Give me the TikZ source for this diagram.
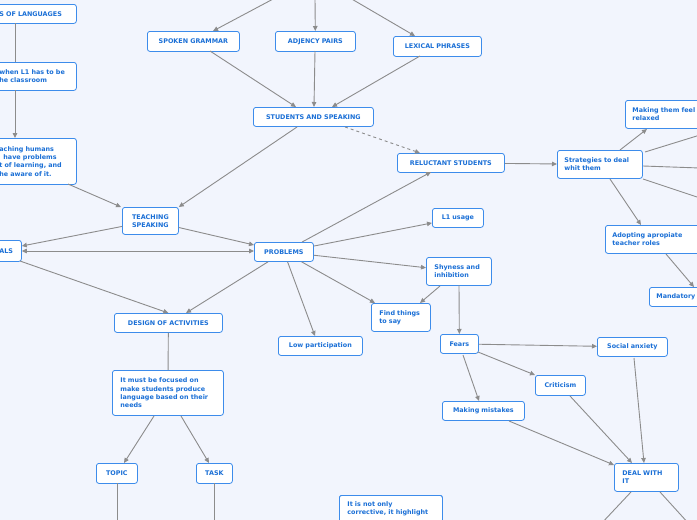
\documentclass[tikz,border=0pt]{standalone}
\usepackage{fontspec}
\setmainfont{DejaVu Sans}
\usetikzlibrary{arrows.meta}
\definecolor{bg}{HTML}{F2F5FD}
\definecolor{bd}{HTML}{3D8CEB}
\definecolor{tx}{HTML}{1A6FD6}
\definecolor{ln}{HTML}{8C8C8C}
\begin{document}
\begin{tikzpicture}[x=1pt,y=-1pt,
 box/.style={draw=bd,fill=white,rounded corners=2.5pt,line width=0.8pt,text=tx,font=\bfseries\fontsize{6.4}{8.2}\selectfont,inner sep=0pt,anchor=north west},
 con/.style={draw=ln,line width=0.9pt,-{Triangle[length=5pt,width=4.5pt]}},
 pln/.style={draw=ln,line width=0.9pt}]
\fill[bg] (0,0) rectangle (697,520);
\clip (0,0) rectangle (697,520);
\newcommand{\bx}[7]{\node[box,minimum width=#4,minimum height=#5,text width=#4-2*#6,inner xsep=#6,align=#7] (#1) at #2 {#3};}
\bx{lang}{(-60,4)}{\hspace*{59pt}S OF LANGUAGES}{136pt}{19pt}{0pt}{left}
\bx{when}{(-60,62)}{\hspace*{59pt}when L1 has to be\\\hspace*{59pt}he classroom}{136pt}{28pt}{0pt}{left}
\bx{aching}{(-60,138)}{\hspace*{59pt}aching humans\\\hspace*{63pt}have problems\\\hspace*{59pt}t of learning, and\\\hspace*{59pt}he aware of it.}{136pt}{46pt}{0pt}{left}
\bx{als}{(-60,240)}{\hspace*{59pt}ALS}{81pt}{21pt}{0pt}{left}
\bx{sg}{(147,31)}{SPOKEN GRAMMAR}{92pt}{20pt}{4pt}{center}
\bx{ap}{(275,31)}{ADJENCY PAIRS}{80pt}{20pt}{4pt}{center}
\bx{lp}{(393,36)}{LEXICAL PHRASES}{88pt}{20pt}{4pt}{center}
\bx{ss}{(253,107)}{STUDENTS AND SPEAKING}{120pt}{19pt}{4pt}{center}
\bx{rs}{(397,153)}{RELUCTANT STUDENTS}{107pt}{19pt}{4pt}{center}
\bx{st}{(557,150)}{Strategies to deal\\whit them}{85pt}{28pt}{7pt}{left}
\bx{mr}{(625,100)}{Making them feel\\relaxed}{95pt}{28pt}{7pt}{left}
\bx{ad}{(605,225)}{Adopting apropiate\\teacher roles}{110pt}{28pt}{7pt}{left}
\bx{ma}{(649,287)}{Mandatory}{80pt}{19pt}{7pt}{left}
\bx{ts}{(122,207)}{TEACHING\\SPEAKING}{56pt}{27pt}{3pt}{center}
\bx{pr}{(254,242)}{PROBLEMS}{59pt}{19pt}{3pt}{center}
\bx{l1}{(432,208)}{L1 usage}{51pt}{19pt}{3pt}{center}
\bx{sh}{(426,257)}{Shyness and\\inhibition}{65pt}{28pt}{8pt}{left}
\bx{ft}{(371,303)}{Find things\\to say}{59pt}{28pt}{8pt}{left}
\bx{lo}{(278,336)}{Low participation}{84pt}{19pt}{3pt}{center}
\bx{fe}{(440,334)}{Fears}{38pt}{19pt}{3pt}{center}
\bx{sa}{(597,337)}{Social anxiety}{70pt}{19pt}{3pt}{center}
\bx{cr}{(535,375)}{Criticism}{50pt}{20pt}{3pt}{center}
\bx{mm}{(442,401)}{Making mistakes}{82pt}{19pt}{3pt}{center}
\bx{dw}{(614,463)}{DEAL WITH\\IT}{64pt}{28pt}{8pt}{left}
\bx{no}{(339,495)}{It is not only\\corrective, it highlight}{103pt}{27pt}{8pt}{left}
\node[draw=bd,fill=white,rounded corners=2.5pt,line width=0.8pt,anchor=north west,minimum width=103pt,minimum height=40pt] at (339,495) {};
\bx{no}{(339,495)}{It is not only\\corrective, it highlight}{103pt}{27pt}{8pt}{left}
\bx{da}{(114,313)}{DESIGN OF ACTIVITIES}{108pt}{19pt}{3pt}{center}
\bx{im}{(112,370)}{It must be focused on\\make students produce\\language based on their\\needs}{111pt}{45pt}{8pt}{left}
\bx{to}{(96,463)}{TOPIC}{41pt}{20pt}{3pt}{center}
\bx{ta}{(196,463)}{TASK}{36pt}{20pt}{3pt}{center}
\coordinate (t1) at (275,-2); \coordinate (t2) at (315,-2); \coordinate (t3) at (350,-2);
\draw[con] (t1) -- (213,31); \draw[con] (t2) -- (ap);
\draw[con] (t3) -- (415,36);
\draw[con] (210,51) -- (296,107);
\draw[con] (315,51) -- (314,107); \draw[con] (420,56) -- (332,107);
\draw[con] (297,127) -- (ts.north east);
\draw[con,dashed] (345,127) -- (420,153);
\draw[pln] (15,23) -- (15,62);
\draw[con] (15,90) -- (15,138);
\draw[con] (68,184) -- (121,207);
\draw[con] (ts) -- (als.east |- 0,246);
\draw[con] (ts) -- (pr);
\draw[con,{Triangle[length=5pt,width=4.5pt]}-{Triangle[length=5pt,width=4.5pt]}] (als.east |- 0,251) -- (pr.west |- 0,251);
\draw[con] (20,261) -- (da.north);
\draw[con] (pr) -- (186,313);
\draw[con] (pr) -- (431,172);
\draw[con] (pr) -- (l1);
\draw[con] (pr) -- (sh);
\draw[con] (pr) -- (375,303);
\draw[con] (pr) -- (315,336);
\draw[con] (440,286) -- (420,303);
\draw[con] (459,285) -- (fe);
\draw[con] (fe) -- (sa);
\draw[con] (478,352) -- (535,375);
\draw[con] (463,355) -- (479,401);
\draw[con] (509,421) -- (614,465);
\draw[con] (570,396) -- (632,463);
\draw[con] (634,358) -- (644,463);
\draw[pln] (631,492) -- (600,525); \draw[pln] (660,492) -- (690,525);
\draw[con] (rs) -- (st);
\draw[con] (620,150) -- (647,129);
\draw[pln] (645,152) -- (700,135);
\draw[pln] (643,166) -- (700,168);
\draw[pln] (643,179) -- (700,198);
\draw[con] (610,179) -- (641,225);
\draw[con] (666,254) -- (694,287);
\draw[pln] (da) -- (im);
\draw[con] (154,416) -- (124,463);
\draw[con] (181,416) -- (209,463);
\draw[pln] (117,483) -- (117,525); \draw[pln] (214,483) -- (214,525);
\end{tikzpicture}
\end{document}
